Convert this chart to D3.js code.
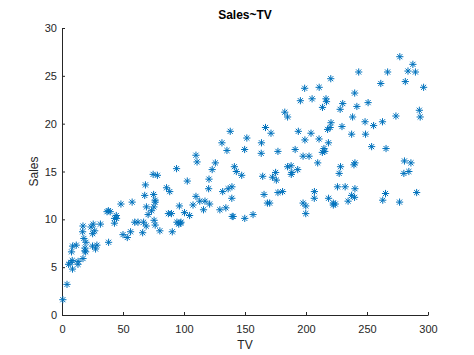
<!DOCTYPE html>
<html>
<head>
<meta charset="utf-8">
<script src="https://cdn.jsdelivr.net/npm/d3@7"></script>
<style>
  body { margin: 0; background: #fff; }
  svg { display: block; }
</style>
</head>
<body>
<svg id="chart"></svg>
<script>
// Advertising data: TV budget vs Sales
const tv = [230.1, 44.5, 17.2, 151.5, 180.8, 8.7, 57.5, 120.2, 8.6, 199.8,
  66.1, 214.7, 23.8, 97.5, 204.1, 195.4, 67.8, 281.4, 69.2, 147.3,
  218.4, 237.4, 13.2, 228.3, 62.3, 262.9, 142.9, 240.1, 248.8, 70.6,
  292.9, 112.9, 97.2, 265.6, 95.7, 290.7, 266.9, 74.7, 43.1, 228,
  202.5, 177, 293.6, 206.9, 25.1, 175.1, 89.7, 239.9, 227.2, 66.9,
  199.8, 100.4, 216.4, 182.6, 262.7, 198.9, 7.3, 136.2, 210.8, 210.7,
  53.5, 261.3, 239.3, 102.7, 131.1, 69, 31.5, 139.3, 237.4, 216.8,
  199.1, 109.8, 26.8, 129.4, 213.4, 16.9, 27.5, 120.5, 5.4, 116,
  76.4, 239.8, 75.3, 68.4, 213.5, 193.2, 76.3, 110.7, 88.3, 109.8,
  134.3, 28.6, 217.7, 250.9, 107.4, 163.3, 197.6, 184.9, 289.7, 135.2,
  222.4, 296.4, 280.2, 187.9, 238.2, 137.9, 25, 90.4, 13.1, 255.4,
  225.8, 241.7, 175.7, 209.6, 78.2, 75.1, 139.2, 76.4, 125.7, 19.4,
  141.3, 18.8, 224, 123.1, 229.5, 87.2, 7.8, 80.2, 220.3, 59.6,
  0.7, 265.2, 8.4, 219.8, 36.9, 48.3, 25.6, 273.7, 43, 184.9,
  73.4, 193.7, 220.5, 104.6, 96.2, 140.3, 240.1, 243.2, 38, 44.7,
  280.7, 121, 197.6, 171.3, 187.8, 4.1, 93.9, 149.8, 11.7, 131.7,
  172.5, 85.7, 188.4, 163.5, 117.2, 234.5, 17.9, 206.8, 215.4, 284.3,
  50, 164.5, 19.6, 168.4, 222.4, 276.9, 248.4, 170.2, 276.7, 165.6,
  156.6, 218.5, 56.2, 287.6, 253.8, 205, 139.5, 191.1, 286, 18.7,
  39.5, 75.5, 17.2, 166.8, 149.7, 38.2, 94.2, 177, 283.6, 232.1]

const sales = [22.1, 10.4, 9.3, 18.5, 12.9, 7.2, 11.8, 13.2, 4.8, 10.6,
  8.6, 17.4, 9.2, 9.7, 19, 22.4, 12.5, 24.4, 11.3, 14.6,
  18, 12.5, 5.6, 15.5, 9.7, 12, 15, 15.9, 18.9, 10.5,
  21.4, 11.9, 9.6, 17.4, 9.5, 12.8, 25.4, 14.7, 10.1, 21.5,
  16.6, 17.1, 20.7, 12.9, 8.5, 14.9, 10.6, 23.2, 14.8, 9.7,
  11.4, 10.7, 22.6, 21.2, 20.2, 23.7, 5.5, 13.2, 23.8, 18.4,
  8.1, 24.2, 15.7, 14, 18, 9.3, 9.5, 13.4, 18.9, 22.3,
  18.3, 12.4, 8.8, 11, 17, 8.7, 6.9, 14.2, 5.3, 11,
  11.8, 12.3, 11.3, 13.6, 21.7, 15.2, 12, 16, 12.9, 16.7,
  11.2, 7.3, 19.4, 22.2, 11.5, 16.9, 11.7, 15.5, 25.4, 17.2,
  11.7, 23.8, 14.8, 14.7, 20.7, 19.2, 7.2, 8.7, 5.3, 19.8,
  13.4, 21.8, 14.1, 15.9, 14.6, 12.6, 12.2, 9.4, 15.9, 6.6,
  15.5, 7, 11.6, 15.2, 19.7, 10.6, 6.6, 8.8, 24.7, 9.7,
  1.6, 12.7, 5.7, 19.6, 10.8, 11.6, 9.5, 20.8, 9.6, 20.7,
  10.9, 19.2, 20.1, 10.4, 11.4, 10.3, 13.2, 25.4, 10.9, 10.1,
  16.1, 11.6, 16.6, 19, 15.6, 3.2, 15.3, 10.1, 7.3, 12.9,
  14.4, 13.3, 14.9, 18, 11.9, 11.9, 8, 12.2, 17.1, 15,
  8.4, 14.5, 7.6, 11.7, 11.5, 27, 20.2, 11.7, 11.8, 12.6,
  10.5, 12.2, 8.7, 26.2, 17.6, 22.6, 10.3, 17.3, 15.9, 6.7,
  10.8, 9.9, 5.9, 19.6, 17.3, 7.6, 9.7, 12.8, 25.5, 13.4]

const xTicks = [0, 50, 100, 150, 200, 250, 300]
const yTicks = [0, 5, 10, 15, 20, 25, 30]

const width = 474
const height = 355
const margin = { top: 28, right: 46, bottom: 40, left: 62 }
const innerW = width - margin.left - margin.right
const innerH = height - margin.top - margin.bottom

const font = 'Arial, "Liberation Sans", Helvetica, sans-serif'
const axisColor = '#262626'
const markerColor = '#0072BD'

const svg = d3.select('#chart').attr('width', width).attr('height', height)

svg.append('rect')
  .attr('width', width)
  .attr('height', height)
  .attr('fill', '#fff')

const g = svg.append('g')
  .attr('transform', `translate(${margin.left},${margin.top})`)

const x = d3.scaleLinear().domain([0, 300]).range([0, innerW])
const y = d3.scaleLinear().domain([0, 30]).range([innerH, 0])

// axes, ticks pointing inward like MATLAB
const xAxis = g.append('g')
  .attr('transform', `translate(0,${innerH})`)
  .call(d3.axisBottom(x).tickValues(xTicks).tickSize(-3).tickPadding(8).tickSizeOuter(0))

const yAxis = g.append('g')
  .call(d3.axisLeft(y).tickValues(yTicks).tickSize(-3).tickPadding(5).tickSizeOuter(0))

;[xAxis, yAxis].forEach((ax) => {
  ax.select('.domain').attr('stroke', axisColor).attr('stroke-width', 1)
  ax.selectAll('.tick line').attr('stroke', axisColor)
  ax.selectAll('.tick text')
    .attr('fill', axisColor)
    .attr('font-family', font)
    .attr('font-size', 11)
})
xAxis.selectAll('.tick text').attr('dy', '0.9em')

// asterisk markers
const r = 3.6
const d45 = r * Math.SQRT1_2
const asterisk = `M${-r},0L${r},0M0,${-r}L0,${r}` +
  `M${-d45},${-d45}L${d45},${d45}M${-d45},${d45}L${d45},${-d45}`

const points = tv.map((t, i) => ({ tv: t, sales: sales[i] }))

g.append('g')
  .attr('class', 'points')
  .selectAll('path')
  .data(points)
  .join('path')
  .attr('transform', (d) => `translate(${x(d.tv)},${y(d.sales)})`)
  .attr('d', asterisk)
  .attr('fill', 'none')
  .attr('stroke', markerColor)
  .attr('stroke-width', 1)

// labels
svg.append('text')
  .attr('x', margin.left + innerW / 2)
  .attr('y', 19)
  .attr('text-anchor', 'middle')
  .attr('font-family', font)
  .attr('font-size', 12)
  .attr('font-weight', 'bold')
  .attr('fill', '#000')
  .text('Sales~TV')

svg.append('text')
  .attr('x', margin.left + innerW / 2)
  .attr('y', 349)
  .attr('text-anchor', 'middle')
  .attr('font-family', font)
  .attr('font-size', 12)
  .attr('fill', axisColor)
  .text('TV')

svg.append('text')
  .attr('transform', `translate(38,${margin.top + innerH / 2}) rotate(-90)`)
  .attr('text-anchor', 'middle')
  .attr('font-family', font)
  .attr('font-size', 12)
  .attr('fill', axisColor)
  .text('Sales')
</script>
</body>
</html>
